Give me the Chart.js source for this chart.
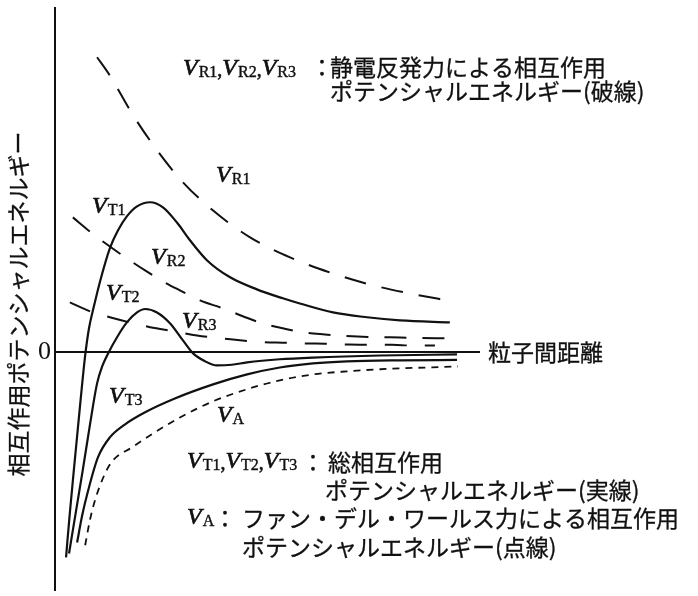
<!DOCTYPE html>
<html lang="ja">
<head>
<meta charset="utf-8">
<title>相互作用ポテンシャルエネルギー</title>
<script src="https://cdn.jsdelivr.net/npm/chart.js@4.4.1/dist/chart.umd.min.js"></script>
<style>
  html, body { margin: 0; padding: 0; background: #fff; }
  #wrap { width: 698px; height: 596px; position: relative; }
</style>
</head>
<body>
<div id="wrap"><canvas id="myChart"></canvas></div>
<script>
// 粒子間距離 (任意単位) と ポテンシャルエネルギー (任意単位)
// 静電反発 V_R1, V_R2, V_R3 (破線)
const xR1 = [9.9, 12.9, 18.1, 24.0, 30.1, 37.2, 45.9, 55.3, 64.7, 74.1, 83.5, 93.6];
const vR1 = [85.7, 80.4, 69.4, 58.7, 49.4, 41.2, 33.4, 27.6, 23.2, 19.7, 17.1, 14.8];

const xR2 = [4.2, 8.7, 12.5, 16.9, 21.2, 25.4, 29.4, 34.1, 39.5, 44.2, 48.9, 53.6, 58.4, 63.5, 68.2, 73.6, 78.8, 84.0, 92.5];
const vR2 = [39.2, 34.6, 31.1, 27.3, 23.8, 20.6, 18.0, 15.1, 12.8, 10.5, 8.4, 7.0, 5.8, 5.2, 4.8, 4.5, 4.4, 4.2, 4.1];

const xR3 = [3.5, 8.9, 12.9, 17.6, 22.4, 28.2, 33.4, 38.1, 43.5, 48.9, 53.6, 58.8, 63.5, 68.9, 74.1, 79.3, 84.0, 89.4];
const vR3 = [14.5, 11.6, 10.2, 8.7, 7.3, 6.1, 4.9, 4.2, 3.5, 3.0, 2.8, 2.6, 2.5, 2.3, 2.2, 2.2, 2.0, 2.0];

// 総相互作用 V_T1, V_T2, V_T3 (実線)
const xT1 = [2.6, 3.5, 4.7, 5.9, 7.1, 8.0, 9.2, 10.6, 12.9, 14.8, 16.9, 19.3, 22.4, 25.4, 28.7, 31.8, 35.8, 41.2, 47.5, 53.6, 57.6, 65.4, 73.4, 81.2, 92.9];
const vT1 = [-59.5, -46.5, -30.8, -15.4, -0.9, 7.0, 13.6, 20.6, 30.2, 35.4, 39.5, 42.4, 43.6, 42.1, 37.7, 32.5, 26.7, 21.8, 18.3, 15.7, 14.2, 11.6, 10.2, 9.3, 8.7];

const xT2 = [3.3, 4.7, 6.6, 8.2, 9.9, 11.1, 12.5, 14.6, 16.9, 19.3, 21.2, 24.0, 27.1, 30.1, 32.5, 35.3, 38.1, 41.6, 45.2, 52.9, 60.7, 76.5, 94.6];
const vT2 = [-58.4, -47.9, -33.7, -21.2, -9.0, -4.1, -0.3, 4.4, 8.7, 11.6, 12.6, 11.6, 8.4, 3.5, -0.3, -2.6, -3.8, -3.6, -2.9, -2.0, -1.5, -0.9, -0.6];

const xT3 = [5.2, 6.4, 7.8, 10.1, 12.9, 16.5, 21.2, 28.2, 37.2, 45.2, 52.9, 60.7, 68.7, 81.2, 94.6];
const vT3 = [-55.2, -47.3, -40.1, -30.5, -24.7, -20.9, -17.4, -13.4, -9.3, -6.4, -4.4, -3.2, -2.6, -2.3, -2.2];

// ファン・デル・ワールス力 V_A (点線)
const xA = [7.1, 8.2, 9.4, 11.8, 13.6, 18.1, 23.5, 29.4, 37.2, 45.2, 52.9, 60.7, 68.7, 76.5, 94.8];
const vA = [-56.0, -48.8, -43.0, -35.1, -31.4, -27.6, -23.2, -18.9, -14.2, -10.7, -8.1, -6.4, -5.5, -4.9, -4.1];

const yTicks = [0];

// 曲線のラベル (データ座標)
const curveLabels = [
    { sub: 'R1', x: 37.9, y: 49.4 },
    { sub: 'T1', x: 8.7, y: 40.4 },
    { sub: 'R2', x: 22.6, y: 25.8 },
    { sub: 'T2', x: 12.0, y: 15.1 },
    { sub: 'R3', x: 29.9, y: 7.0 },
    { sub: 'T3', x: 12.7, y: -14.8 },
    { sub: 'A', x: 38.1, y: -20.3 }
];

const INK = '#111';
const JP = '"Noto Sans CJK JP", "Noto Sans CJK SC", sans-serif';
const SERIF = '"Liberation Serif", "DejaVu Serif", serif';

function pts(xs, ys) {
    return xs.map((x, i) => ({ x: x, y: ys[i] }));
}

function curve(xs, ys, dash, width) {
    return {
        data: pts(xs, ys),
        borderColor: INK,
        borderWidth: width,
        borderDash: dash,
        pointRadius: 0,
        fill: false,
        cubicInterpolationMode: 'monotone'
    };
}

// 少し太めに見せるため輪郭も描く
function heavyText(ctx, text, x, y, w) {
    ctx.fillText(text, x, y);
    ctx.lineWidth = w;
    ctx.strokeText(text, x, y);
}

// 斜体の V と添字を描く
function drawV(ctx, x, y, sub) {
    ctx.textAlign = 'left';
    ctx.font = 'italic 24px ' + SERIF;
    heavyText(ctx, 'V', x, y, 0.7);
    x += ctx.measureText('V').width + 1;
    ctx.font = '16px ' + SERIF;
    heavyText(ctx, sub, x, y + 2, 0.4);
    return x + ctx.measureText(sub).width;
}

function drawVList(ctx, x, y, subs) {
    subs.forEach(function(s, i) {
        x = drawV(ctx, x, y, s);
        if (i < subs.length - 1) {
            ctx.font = '20px ' + SERIF;
            heavyText(ctx, ',', x, y + 1, 0.5);
            x += ctx.measureText(',').width;
        }
    });
}

function jp(ctx, text, x, y, align) {
    ctx.font = '23px ' + JP;
    ctx.textAlign = align || 'left';
    heavyText(ctx, text, x, y, 0.3);
}

const textPlugin = {
    id: 'texts',
    afterDraw(chart) {
        const ctx = chart.ctx;
        const xs = chart.scales.x, ys = chart.scales.y;
        ctx.save();
        ctx.fillStyle = INK;
        ctx.strokeStyle = INK;
        ctx.textBaseline = 'alphabetic';

        curveLabels.forEach(function(l) {
            drawV(ctx, xs.getPixelForValue(l.x), ys.getPixelForValue(l.y), l.sub);
        });

        // 説明文 (上)
        drawVList(ctx, 183, 75, ['R1', 'R2', 'R3']);
        jp(ctx, '：', 322, 76, 'center');
        jp(ctx, '静電反発力による相互作用', 330, 76);
        jp(ctx, 'ポテンシャルエネルギー(破線)', 330, 100);

        // 説明文 (下)
        drawVList(ctx, 187, 468, ['T1', 'T2', 'T3']);
        jp(ctx, '：', 313, 471, 'center');
        jp(ctx, '総相互作用', 328, 471);
        jp(ctx, 'ポテンシャルエネルギー(実線)', 325, 499);
        drawV(ctx, 187, 524, 'A');
        jp(ctx, '：', 225, 527, 'center');
        jp(ctx, 'ファン・デル・ワールス力による相互作用', 242, 527);
        jp(ctx, 'ポテンシャルエネルギー(点線)', 242, 556);

        // 横軸の名前
        jp(ctx, '粒子間距離', chart.chartArea.right + 8, ys.getPixelForValue(0) + 9);

        // 縦軸の名前
        ctx.translate(18, 304);
        ctx.rotate(-Math.PI / 2);
        ctx.textBaseline = 'middle';
        jp(ctx, '相互作用ポテンシャルエネルギー', 0, 0, 'center');
        ctx.restore();
    }
};

new Chart(document.getElementById('myChart'), {
    type: 'line',
    data: {
        datasets: [
            curve(xR1, vR1, [22, 16], 2),
            curve(xR2, vR2, [22, 16], 2),
            curve(xR3, vR3, [22, 18], 2),
            curve(xT1, vT1, [], 2.2),
            curve(xT2, vT2, [], 2.2),
            curve(xT3, vT3, [], 2.2),
            curve(xA, vA, [7, 6], 1.8)
        ]
    },
    options: {
        responsive: true,
        maintainAspectRatio: false,
        animation: false,
        layout: { padding: { left: 0, right: 218, top: 8, bottom: 6 } },
        plugins: { legend: { display: false }, tooltip: { enabled: false } },
        scales: {
            x: { type: 'linear', min: 0, max: 100, display: false },
            y: {
                type: 'linear',
                min: -69,
                max: 100,
                afterBuildTicks: function(s) { s.ticks = yTicks.map(function(v) { return { value: v }; }); },
                afterFit: function(s) { s.width = 55; s.paddingTop = 0; s.paddingBottom = 0; },
                grid: { drawTicks: false, color: INK, lineWidth: 2 },
                border: { display: true, color: INK, width: 2 },
                ticks: {
                    padding: 4,
                    color: INK,
                    font: { family: 'Liberation Serif', size: 26 },
                    callback: function(v) { return String(v); }
                }
            }
        }
    },
    plugins: [textPlugin]
});
</script>
</body>
</html>
